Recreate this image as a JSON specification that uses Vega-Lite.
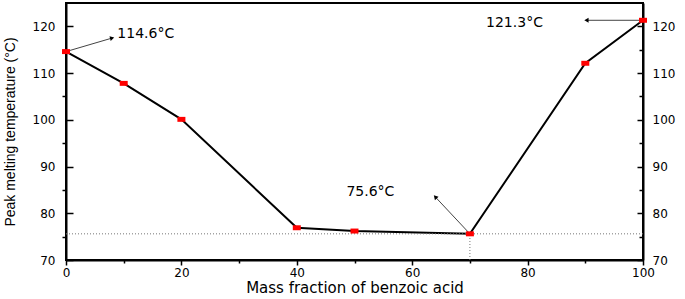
{
  "$schema": "https://vega.github.io/schema/vega-lite/v6.json",
  "autosize": {"type": "none"},
  "width": 577,
  "height": 257,
  "padding": {"left": 66, "top": 3, "right": 42, "bottom": 39},
  "background": "white",
  "config": {
    "view": {"stroke": "black", "strokeWidth": 2},
    "axis": {
      "domainColor": "black", "domainWidth": 2, "tickColor": "black", "tickWidth": 1.5,
      "labelFont": "DejaVu Sans", "labelFontSize": 12, "labelColor": "black",
      "grid": false, "labelFlush": false, "labelOverlap": false
    }
  },
  "datasets": {
    "melt": [
      {"x": 0, "y": 114.6}, {"x": 10, "y": 107.8}, {"x": 20, "y": 100.1},
      {"x": 40, "y": 76.9}, {"x": 50, "y": 76.2}, {"x": 70, "y": 75.6},
      {"x": 90, "y": 112.1}, {"x": 100, "y": 121.3}
    ],
    "guides": [
      {"x": 0, "x2": 100, "y": 75.6, "y2": 75.6},
      {"x": 70, "x2": 70, "y": 70, "y2": 75.6}
    ],
    "arrows": [
      {"id": "a", "x": 0, "y": 114.6, "x2": 8.0, "y2": 117.5},
      {"id": "b", "x": 100, "y": 121.3, "x2": 90.2, "y2": 121.3},
      {"id": "c", "x": 70, "y": 75.6, "x2": 64.0, "y2": 83.5}
    ],
    "notes": [
      {"x": 8.9, "y": 118.3, "label": "114.6°C"},
      {"x": 72.8, "y": 120.8, "label": "121.3°C"},
      {"x": 48.6, "y": 84.5, "label": "75.6°C"}
    ]
  },
  "resolve": {"axis": {"y": "independent"}},
  "layer": [
    {
      "data": {"name": "melt"},
      "mark": {"type": "line", "color": "black", "strokeWidth": 2},
      "encoding": {
        "x": {
          "field": "x", "type": "quantitative",
          "scale": {"domain": [0, 100], "nice": false},
          "axis": {
            "orient": "bottom",
            "title": "Mass fraction of benzoic acid",
            "titleFont": "DejaVu Sans", "titleFontSize": 15, "titleFontWeight": "normal", "titleColor": "black",
            "titlePadding": 2,
            "values": [0, 10, 20, 30, 40, 50, 60, 70, 80, 90, 100],
            "labelExpr": "datum.value % 20 === 0 ? datum.label : ''",
            "tickSize": {"condition": {"test": "datum.value % 20 === 0", "value": 5}, "value": 3},
            "labelPadding": 2
          }
        },
        "y": {
          "field": "y", "type": "quantitative",
          "scale": {"domain": [70, 125], "nice": false},
          "axis": {
            "orient": "left",
            "title": "Peak melting temperature (°C)",
            "titleFont": "Liberation Sans", "titleFontSize": 14, "titleFontWeight": "normal", "titleColor": "black",
            "titlePadding": 15,
            "values": [70, 75, 80, 85, 90, 95, 100, 105, 110, 115, 120],
            "labelExpr": "datum.value % 10 === 0 ? datum.label : ''",
            "tickSize": {"condition": {"test": "datum.value % 10 === 0", "value": -7}, "value": 4},
            "labelPadding": 18
          }
        }
      }
    },
    {
      "data": {"name": "guides"},
      "mark": {"type": "rule", "color": "#777777", "strokeWidth": 1, "strokeDash": [1, 2]},
      "encoding": {
        "x": {"field": "x", "type": "quantitative"},
        "x2": {"field": "x2"},
        "y": {"field": "y", "type": "quantitative", "axis": null},
        "y2": {"field": "y2"}
      }
    },
    {
      "data": {"name": "arrows"},
      "mark": {"type": "rule", "color": "#444444", "strokeWidth": 1},
      "encoding": {
        "x": {"field": "x", "type": "quantitative"},
        "x2": {"field": "x2"},
        "y": {"field": "y", "type": "quantitative", "axis": null},
        "y2": {"field": "y2"}
      }
    },
    {
      "data": {"name": "arrows"},
      "transform": [{"filter": "datum.id === 'a'"}],
      "mark": {"type": "point", "shape": "triangle-up", "angle": 76, "filled": true, "color": "black", "size": 24, "opacity": 1},
      "encoding": {
        "x": {"field": "x2", "type": "quantitative"},
        "y": {"field": "y2", "type": "quantitative", "axis": null}
      }
    },
    {
      "data": {"name": "arrows"},
      "transform": [{"filter": "datum.id === 'b'"}],
      "mark": {"type": "point", "shape": "triangle-left", "filled": true, "color": "black", "size": 24, "opacity": 1},
      "encoding": {
        "x": {"field": "x2", "type": "quantitative"},
        "y": {"field": "y2", "type": "quantitative", "axis": null}
      }
    },
    {
      "data": {"name": "arrows"},
      "transform": [{"filter": "datum.id === 'c'"}],
      "mark": {"type": "point", "shape": "triangle-up", "angle": 317, "filled": true, "color": "black", "size": 24, "opacity": 1},
      "encoding": {
        "x": {"field": "x2", "type": "quantitative"},
        "y": {"field": "y2", "type": "quantitative", "axis": null}
      }
    },
    {
      "data": {"name": "notes"},
      "mark": {"type": "text", "align": "left", "baseline": "middle", "font": "DejaVu Sans", "fontSize": 14, "color": "black"},
      "encoding": {
        "x": {"field": "x", "type": "quantitative"},
        "y": {"field": "y", "type": "quantitative", "axis": null},
        "text": {"field": "label"}
      }
    },
    {
      "data": {"name": "melt"},
      "mark": {"type": "point", "shape": "M-1,-0.62L1,-0.62L1,0.62L-1,0.62Z", "filled": true, "color": "#ff0000", "size": 64, "opacity": 1},
      "encoding": {
        "x": {"field": "x", "type": "quantitative"},
        "y": {
          "field": "y", "type": "quantitative",
          "axis": {
            "orient": "right",
            "title": null,
            "values": [70, 75, 80, 85, 90, 95, 100, 105, 110, 115, 120],
            "labelExpr": "datum.value % 10 === 0 ? datum.label : ''",
            "tickSize": {"condition": {"test": "datum.value % 10 === 0", "value": -6}, "value": -4},
            "labelPadding": 15
          }
        }
      }
    }
  ]
}
